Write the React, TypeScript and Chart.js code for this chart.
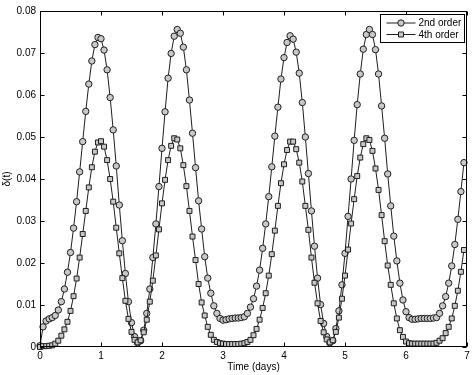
import React, { useEffect, useRef } from "react";
import { Chart, registerables } from "chart.js";

Chart.register(...registerables);

// Time samples (days)
const TIMES = [
  0.00, 0.05, 0.10, 0.15, 0.20, 0.25, 0.30, 0.35, 0.40, 0.45,
  0.50, 0.55, 0.60, 0.65, 0.70, 0.75, 0.80, 0.85, 0.90, 0.95,
  1.00, 1.05, 1.10, 1.15, 1.20, 1.25, 1.30, 1.35, 1.40, 1.45,
  1.50, 1.55, 1.60, 1.65, 1.70, 1.75, 1.80, 1.85, 1.90, 1.95,
  2.00, 2.05, 2.10, 2.15, 2.20, 2.25, 2.30, 2.35, 2.40, 2.45,
  2.50, 2.55, 2.60, 2.65, 2.70, 2.75, 2.80, 2.85, 2.90, 2.95,
  3.00, 3.05, 3.10, 3.15, 3.20, 3.25, 3.30, 3.35, 3.40, 3.45,
  3.50, 3.55, 3.60, 3.65, 3.70, 3.75, 3.80, 3.85, 3.90, 3.95,
  4.00, 4.05, 4.10, 4.15, 4.20, 4.25, 4.30, 4.35, 4.40, 4.45,
  4.50, 4.55, 4.60, 4.65, 4.70, 4.75, 4.80, 4.85, 4.90, 4.95,
  5.00, 5.05, 5.10, 5.15, 5.20, 5.25, 5.30, 5.35, 5.40, 5.45,
  5.50, 5.55, 5.60, 5.65, 5.70, 5.75, 5.80, 5.85, 5.90, 5.95,
  6.00, 6.05, 6.10, 6.15, 6.20, 6.25, 6.30, 6.35, 6.40, 6.45,
  6.50, 6.55, 6.60, 6.65, 6.70, 6.75, 6.80, 6.85, 6.90, 6.95,
];

// δ(t), 2nd order scheme (circles)
const SECOND_ORDER = [
  0.0003, 0.0048, 0.0062, 0.0067, 0.0070, 0.0075, 0.0088, 0.0108, 0.0138, 0.0178,
  0.0225, 0.0283, 0.0346, 0.0417, 0.0489, 0.0561, 0.0626, 0.0681, 0.0720, 0.0737,
  0.0734, 0.0707, 0.0660, 0.0594, 0.0517, 0.0431, 0.0338, 0.0253, 0.0175, 0.0108,
  0.0058, 0.0025, 0.0010, 0.0015, 0.0040, 0.0080, 0.0138, 0.0213, 0.0293, 0.0382,
  0.0473, 0.0560, 0.0640, 0.0699, 0.0740, 0.0756, 0.0747, 0.0714, 0.0660, 0.0588,
  0.0509, 0.0427, 0.0348, 0.0281, 0.0215, 0.0164, 0.0128, 0.0098, 0.0080, 0.0068,
  0.0064, 0.0065, 0.0067, 0.0068, 0.0069, 0.0069, 0.0070, 0.0072, 0.0080, 0.0095,
  0.0115, 0.0145, 0.0183, 0.0235, 0.0293, 0.0358, 0.0429, 0.0502, 0.0571, 0.0638,
  0.0689, 0.0725, 0.0741, 0.0733, 0.0702, 0.0652, 0.0582, 0.0500, 0.0413, 0.0324,
  0.0240, 0.0164, 0.0101, 0.0056, 0.0025, 0.0010, 0.0015, 0.0044, 0.0086, 0.0148,
  0.0223, 0.0311, 0.0400, 0.0492, 0.0577, 0.0650, 0.0709, 0.0744, 0.0756, 0.0744,
  0.0708, 0.0650, 0.0574, 0.0497, 0.0412, 0.0336, 0.0264, 0.0205, 0.0152, 0.0112,
  0.0084, 0.0070, 0.0066, 0.0066, 0.0067, 0.0068, 0.0068, 0.0068, 0.0068, 0.0069,
  0.0070, 0.0080, 0.0098, 0.0120, 0.0152, 0.0193, 0.0244, 0.0304, 0.0370, 0.0439,
];

// δ(t), 4th order scheme (squares)
const FOURTH_ORDER = [
  0.0000, 0.0002, 0.0002, 0.0003, 0.0004, 0.0008, 0.0015, 0.0027, 0.0042, 0.0060,
  0.0086, 0.0121, 0.0163, 0.0213, 0.0269, 0.0324, 0.0380, 0.0428, 0.0465, 0.0487,
  0.0490, 0.0477, 0.0445, 0.0400, 0.0346, 0.0284, 0.0223, 0.0164, 0.0110, 0.0067,
  0.0036, 0.0017, 0.0011, 0.0016, 0.0035, 0.0065, 0.0108, 0.0158, 0.0218, 0.0280,
  0.0342, 0.0398, 0.0445, 0.0479, 0.0497, 0.0494, 0.0473, 0.0433, 0.0383, 0.0324,
  0.0263, 0.0207, 0.0150, 0.0106, 0.0075, 0.0048, 0.0029, 0.0017, 0.0012, 0.0009,
  0.0008, 0.0007, 0.0007, 0.0007, 0.0007, 0.0007, 0.0008, 0.0009, 0.0012, 0.0017,
  0.0028, 0.0043, 0.0065, 0.0093, 0.0128, 0.0170, 0.0221, 0.0277, 0.0336, 0.0390,
  0.0435, 0.0469, 0.0489, 0.0489, 0.0471, 0.0439, 0.0394, 0.0336, 0.0279, 0.0213,
  0.0153, 0.0104, 0.0062, 0.0035, 0.0018, 0.0011, 0.0016, 0.0036, 0.0070, 0.0115,
  0.0170, 0.0232, 0.0294, 0.0352, 0.0407, 0.0451, 0.0483, 0.0497, 0.0493, 0.0467,
  0.0425, 0.0374, 0.0314, 0.0252, 0.0194, 0.0148, 0.0104, 0.0068, 0.0040, 0.0024,
  0.0013, 0.0009, 0.0008, 0.0008, 0.0008, 0.0008, 0.0008, 0.0008, 0.0008, 0.0008,
  0.0010, 0.0015, 0.0021, 0.0033, 0.0048, 0.0068, 0.0098, 0.0134, 0.0179, 0.0231,
];

const X_TICKS = [0, 1, 2, 3, 4, 5, 6, 7];
const Y_TICKS = [0, 0.01, 0.02, 0.03, 0.04, 0.05, 0.06, 0.07, 0.08];
const Y_TICK_LABELS = ["0", "0.01", "0.02", "0.03", "0.04", "0.05", "0.06", "0.07", "0.08"];
const SERIES_LABELS = ["2nd order", "4th order"];
const X_TITLE = "Time (days)";
const Y_TITLE = "\u03b4(t)";

const FONT = "'Liberation Sans', Arial, Helvetica, sans-serif";
const INK = "#1e1e1e";
const MARKER_FILL = "#c8c8c8";

const matlabAxes = {
  id: "matlabAxes",
  afterDatasetsDraw(chart: any) {
    const { ctx, chartArea: a, scales } = chart;
    const L = Math.round(a.left) + 0.5;
    const T = Math.round(a.top) + 0.5;
    const R = Math.round(a.right) - 0.5;
    const B = Math.round(a.bottom) - 0.5;
    ctx.save();
    ctx.strokeStyle = "#000";
    ctx.lineWidth = 1;
    ctx.strokeRect(L, T, R - L, B - T);
    const tl = 4;
    ctx.beginPath();
    X_TICKS.forEach((v) => {
      const px = Math.round(scales.x.getPixelForValue(v)) + 0.5;
      ctx.moveTo(px, B);
      ctx.lineTo(px, B - tl);
      ctx.moveTo(px, T);
      ctx.lineTo(px, T + tl);
    });
    Y_TICKS.forEach((v) => {
      const py = Math.round(scales.y.getPixelForValue(v)) + 0.5;
      ctx.moveTo(L, py);
      ctx.lineTo(L + tl, py);
      ctx.moveTo(R, py);
      ctx.lineTo(R - tl, py);
    });
    ctx.stroke();

    // legend box (top-right, inside axes)
    const bw = 84;
    const bh = 28;
    const bx = Math.round(a.right) - 3 - bw + 0.5;
    const by = Math.round(a.top) + 3 + 0.5;
    ctx.fillStyle = "#fff";
    ctx.fillRect(bx, by, bw, bh);
    ctx.strokeStyle = "#000";
    ctx.strokeRect(bx, by, bw, bh);
    const rows = [by + 8.5, by + 20];
    const styles = ["circle", "rect"];
    ctx.font = `10px ${FONT}`;
    ctx.textBaseline = "middle";
    ctx.textAlign = "left";
    rows.forEach((ry, i) => {
      const x0 = bx + 6;
      const x1 = bx + 35;
      ctx.strokeStyle = INK;
      ctx.lineWidth = 1;
      ctx.beginPath();
      ctx.moveTo(x0, ry);
      ctx.lineTo(x1, ry);
      ctx.stroke();
      const mx = (x0 + x1) / 2;
      ctx.fillStyle = MARKER_FILL;
      ctx.beginPath();
      if (styles[i] === "circle") {
        ctx.arc(mx, ry, 3.2, 0, Math.PI * 2);
      } else {
        ctx.rect(mx - 2.5, ry - 2.5, 5, 5);
      }
      ctx.fill();
      ctx.stroke();
      ctx.fillStyle = "#000";
      ctx.fillText(SERIES_LABELS[i], bx + 38, ry + 0.5);
    });
    ctx.restore();
  },
};

export default function App() {
  const ref = useRef<HTMLCanvasElement | null>(null);

  useEffect(() => {
    if (!ref.current) return;
    Chart.defaults.font.family = FONT;
    Chart.defaults.font.size = 10;
    Chart.defaults.color = "#000";

    const circlePts = TIMES.map((t, i) => ({ x: t, y: SECOND_ORDER[i] }));
    const squarePts = TIMES.map((t, i) => ({ x: t, y: FOURTH_ORDER[i] }));

    const chart = new Chart(ref.current, {
      type: "line",
      data: {
        datasets: [
          {
            label: SERIES_LABELS[0],
            data: circlePts,
            borderColor: INK,
            borderWidth: 1,
            pointStyle: "circle",
            pointRadius: 3.2,
            pointBorderWidth: 1,
            pointBorderColor: INK,
            pointBackgroundColor: MARKER_FILL,
            fill: false,
            tension: 0,
            clip: false as any,
            order: 2,
          },
          {
            label: SERIES_LABELS[1],
            data: squarePts,
            borderColor: INK,
            borderWidth: 1,
            pointStyle: "rect",
            pointRadius: 3.5,
            pointBorderWidth: 1,
            pointBorderColor: INK,
            pointBackgroundColor: MARKER_FILL,
            fill: false,
            tension: 0,
            clip: false as any,
            order: 1,
          },
        ],
      },
      options: {
        responsive: false,
        animation: false,
        events: [],
        layout: { padding: { top: 11, right: 7, left: 0, bottom: 0 } },
        plugins: {
          legend: { display: false },
          tooltip: { enabled: false },
        },
        scales: {
          x: {
            type: "linear",
            min: 0,
            max: 7,
            grid: { display: false, drawTicks: false },
            border: { display: false },
            afterBuildTicks: (s: any) => {
              s.ticks = X_TICKS.map((v) => ({ value: v }));
            },
            afterFit: (s: any) => {
              s.height = 28;
            },
            ticks: {
              padding: 3,
              maxRotation: 0,
              autoSkip: false,
              color: "#000",
              font: { size: 10, family: FONT },
              callback: (v: any) => String(v),
            },
            title: {
              display: true,
              text: X_TITLE,
              color: "#000",
              font: { size: 10, family: FONT },
              padding: { top: 0, bottom: 2 },
            },
          },
          y: {
            type: "linear",
            min: 0,
            max: 0.08,
            grid: { display: false, drawTicks: false },
            border: { display: false },
            afterBuildTicks: (s: any) => {
              s.ticks = Y_TICKS.map((v) => ({ value: v }));
            },
            afterFit: (s: any) => {
              s.width = 40;
            },
            ticks: {
              padding: 4,
              autoSkip: false,
              color: "#000",
              font: { size: 10, family: FONT },
              callback: (v: any) => {
                const i = Y_TICKS.findIndex((t) => Math.abs(t - v) < 1e-9);
                return i >= 0 ? Y_TICK_LABELS[i] : "";
              },
            },
            title: {
              display: true,
              text: Y_TITLE,
              color: "#000",
              font: { size: 10, family: FONT },
              padding: { top: 1, bottom: 0 },
            },
          },
        },
      },
      plugins: [matlabAxes],
    });

    return () => chart.destroy();
  }, []);

  return (
    <div style={{ position: "absolute", left: 0, top: 0, width: 474, height: 375, background: "#fff" }}>
      <canvas ref={ref} width={474} height={375} style={{ display: "block", width: 474, height: 375 }} />
    </div>
  );
}
